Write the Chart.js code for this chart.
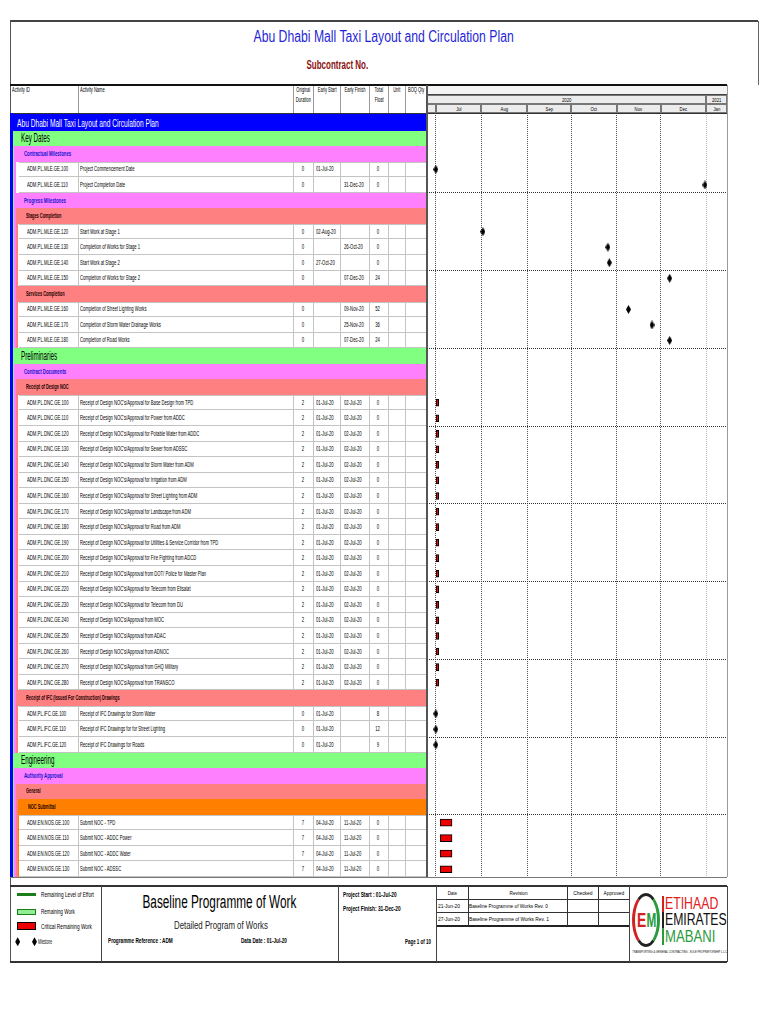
<!DOCTYPE html>
<html><head><meta charset="utf-8">
<script src="https://cdn.jsdelivr.net/npm/chart.js@4.4.0/dist/chart.umd.min.js"></script>
<style>
html,body{margin:0;padding:0;background:#fff;}
#page{position:relative;width:768px;height:1024px;overflow:hidden;background:#fff;font-family:"Liberation Sans",Arial,sans-serif;}
.t{position:absolute;white-space:nowrap;}
.b{position:absolute;box-sizing:border-box;}
#gantt{position:absolute;left:427px;top:115px;z-index:2;}
</style></head><body><div id="page"><canvas id="gantt" width="300" height="762"></canvas></div>
<script>
// ---------------- DATA ----------------
const rowKeys = [
 'Abu Dhabi Mall Taxi Layout and Circulation Plan',
 'Key Dates',
 'Contractual Milestones',
 'ADM.PL.MLE.GE.100',
 'ADM.PL.MLE.GE.110',
 'Progress Milestones',
 'Stages Completion',
 'ADM.PL.MLE.GE.120',
 'ADM.PL.MLE.GE.130',
 'ADM.PL.MLE.GE.140',
 'ADM.PL.MLE.GE.150',
 'Services Completion',
 'ADM.PL.MLE.GE.160',
 'ADM.PL.MLE.GE.170',
 'ADM.PL.MLE.GE.180',
 'Preliminaries',
 'Contract Documents',
 'Receipt of Design NOC',
 'ADM.PL.DNC.GE.100','ADM.PL.DNC.GE.110','ADM.PL.DNC.GE.120','ADM.PL.DNC.GE.130','ADM.PL.DNC.GE.140',
 'ADM.PL.DNC.GE.150','ADM.PL.DNC.GE.160','ADM.PL.DNC.GE.170','ADM.PL.DNC.GE.180','ADM.PL.DNC.GE.190',
 'ADM.PL.DNC.GE.200','ADM.PL.DNC.GE.210','ADM.PL.DNC.GE.220','ADM.PL.DNC.GE.230','ADM.PL.DNC.GE.240',
 'ADM.PL.DNC.GE.250','ADM.PL.DNC.GE.260','ADM.PL.DNC.GE.270','ADM.PL.DNC.GE.280',
 'Receipt of IFC (Issued For Construction) Drawings',
 'ADM.PL.IFC.GE.100','ADM.PL.IFC.GE.110','ADM.PL.IFC.GE.120',
 'Engineering',
 'Authority Approval',
 'General',
 'NOC Submittal',
 'ADM.EN.NOS.GE.100','ADM.EN.NOS.GE.110','ADM.EN.NOS.GE.120','ADM.EN.NOS.GE.130'
];
// 0 = activity, 1..5 = WBS band level
const rowLevels = [1,2,3,0,0,3,4,0,0,0,0,4,0,0,0,2,3,4,
 0,0,0,0,0,0,0,0,0,0,0,0,0,0,0,0,0,0,0,
 4,0,0,0,2,3,4,5,0,0,0,0];
const activityNames = ['','','',
 'Project Commencement Date','Project Completion Date','','',
 'Start Work at Stage 1','Completion of Works for Stage 1','Start Work at Stage 2','Completion of Works for Stage 2','',
 'Completion of Street Lighting Works','Completion of Storm Water Drainage Works','Completion of Road Works',
 '','','',
 "Receipt of Design NOC's/Approval for Base Design from TPD",
 "Receipt of Design NOC's/Approval for Power from ADDC",
 "Receipt of Design NOC's/Approval for Potable Water from ADDC",
 "Receipt of Design NOC's/Approval for Sewer from ADSSC",
 "Receipt of Design NOC's/Approval for Storm Water from ADM",
 "Receipt of Design NOC's/Approval for Irrigation from ADM",
 "Receipt of Design NOC's/Approval for Street Lighting from ADM",
 "Receipt of Design NOC's/Approval for Landscape from ADM",
 "Receipt of Design NOC's/Approval for Road from ADM",
 "Receipt of Design NOC's/Approval for Utilities & Service Corridor from TPD",
 "Receipt of Design NOC's/Approval for Fire Fighting from ADCD",
 "Receipt of Design NOC's/Approval from DOT/ Police for Master Plan",
 "Receipt of Design NOC's/Approval for Telecom from Etisalat",
 "Receipt of Design NOC's/Approval for Telecom from DU",
 "Receipt of Design NOC's/Approval from MOC",
 "Receipt of Design NOC's/Approval from ADAC",
 "Receipt of Design NOC's/Approval from ADNOC",
 "Receipt of Design NOC's/Approval from GHQ Military",
 "Receipt of Design NOC's/Approval from TRANSCO",
 '',
 'Receipt of IFC Drawings for Storm Water','Receipt of IFC Drawings for for Street Lighting','Receipt of IFC Drawings for Roads',
 '','','','',
 'Submit NOC - TPD','Submit NOC - ADDC Power','Submit NOC - ADDC Water','Submit NOC - ADSSC'];
const originalDuration = ['','','','0','0','','','0','0','0','0','','0','0','0','','','',
 '2','2','2','2','2','2','2','2','2','2','2','2','2','2','2','2','2','2','2',
 '','0','0','0','','','','','7','7','7','7'];
const earlyStart = ['','','','01-Jul-20','','','','02-Aug-20','','27-Oct-20','','','','','','','','',
 '01-Jul-20','01-Jul-20','01-Jul-20','01-Jul-20','01-Jul-20','01-Jul-20','01-Jul-20','01-Jul-20','01-Jul-20','01-Jul-20',
 '01-Jul-20','01-Jul-20','01-Jul-20','01-Jul-20','01-Jul-20','01-Jul-20','01-Jul-20','01-Jul-20','01-Jul-20',
 '','01-Jul-20','01-Jul-20','01-Jul-20','','','','','04-Jul-20','04-Jul-20','04-Jul-20','04-Jul-20'];
const earlyFinish = ['','','','','31-Dec-20','','','','26-Oct-20','','07-Dec-20','','09-Nov-20','25-Nov-20','07-Dec-20','','','',
 '02-Jul-20','02-Jul-20','02-Jul-20','02-Jul-20','02-Jul-20','02-Jul-20','02-Jul-20','02-Jul-20','02-Jul-20','02-Jul-20',
 '02-Jul-20','02-Jul-20','02-Jul-20','02-Jul-20','02-Jul-20','02-Jul-20','02-Jul-20','02-Jul-20','02-Jul-20',
 '','','','','','','','','11-Jul-20','11-Jul-20','11-Jul-20','11-Jul-20'];
const totalFloat = ['','','','0','0','','','0','0','0','24','','52','36','24','','','',
 '0','0','0','0','0','0','0','0','0','0','0','0','0','0','0','0','0','0','0',
 '','8','12','9','','','','','0','0','0','0'];
const monthLabels = ['Jul','Aug','Sep','Oct','Nov','Dec','Jan'];
const monthStarts = ['01-Jul-20','01-Aug-20','01-Sep-20','01-Oct-20','01-Nov-20','01-Dec-20','01-Jan-21'];
const yearLabels = ['2020','2021'];
const timelineStart = '25-Jun-20';
const timelineEnd = '15-Jan-21';
const headerColumns = ['Activity ID','Activity Name','Original Duration','Early Start','Early Finish','Total Float','Unit','BOQ Qty'];

// ---------------- HELPERS ----------------
const MON = {Jan:0,Feb:1,Mar:2,Apr:3,May:4,Jun:5,Jul:6,Aug:7,Sep:8,Oct:9,Nov:10,Dec:11};
const ORIGIN = Date.UTC(2020,6,1);
function dayNum(s){ const p = s.split('-'); return Math.round((Date.UTC(2000 + (+p[2]), MON[p[1]], +p[0]) - ORIGIN)/86400000); }

const page = document.getElementById('page');
const FONT = '"Liberation Sans", Arial, sans-serif';
function box(x,y,w,h,st){ const d=document.createElement('div'); d.className='b';
  d.style.left=x+'px'; d.style.top=y+'px'; d.style.width=w+'px'; d.style.height=h+'px';
  Object.assign(d.style, st||{}); page.appendChild(d); return d; }
function hline(x1,x2,y,c,t){ t=t||1; return box(Math.round(x1), Math.round(y - t/2), Math.round(x2)-Math.round(x1), t, {background:c}); }
function vline(x,y1,y2,c,t){ t=t||1; return box(Math.round(x - t/2), Math.round(y1), t, Math.round(y2)-Math.round(y1), {background:c}); }
function txt(str,x,y,o){
  o=o||{}; const size=o.size||6.5;
  const d=document.createElement('div'); d.className='t'; d.textContent=str;
  d.style.fontFamily=o.family||FONT; d.style.fontSize=size+'px'; d.style.fontWeight=o.weight||'normal';
  d.style.color=o.color||'#000'; d.style.lineHeight=Math.round(size*1.25)+'px'; d.style.zIndex=3;
  page.appendChild(d);
  const w=d.offsetWidth, h=d.offsetHeight;
  const sx = o.w ? o.w/w : (o.sx||1); const sy = o.sy||1;
  const a=o.align||'l';
  d.style.left=(a==='l'?x:a==='c'?x-w/2:x-w)+'px';
  d.style.top=(y-h/2)+'px';
  d.style.transformOrigin=(a==='l'?'left':a==='c'?'center':'right')+' center';
  d.style.transform='scale('+sx+','+sy+')';
  return d;
}
function diamondDiv(x,y){ return box(x-2.5,y-4.5,5,9,{background:'#000',clipPath:'polygon(50% 0,100% 50%,50% 100%,0 50%)'}); }

// ---------------- CHART ----------------
const diamond = document.createElement('canvas');
diamond.width = 5; diamond.height = 9;
(function(){ const c = diamond.getContext('2d'); c.fillStyle='#000'; c.beginPath();
  c.moveTo(2.5,0); c.lineTo(5,4.5); c.lineTo(2.5,9); c.lineTo(0,4.5); c.closePath(); c.fill(); })();

const barData = rowKeys.map((k,i)=> (+originalDuration[i] > 0) ? [dayNum(earlyStart[i]), dayNum(earlyFinish[i]) + 1] : null);
const milestoneData = [];
rowKeys.forEach((k,i)=>{
  if (rowLevels[i]===0 && originalDuration[i]==='0') {
    const d = earlyStart[i] || earlyFinish[i];
    milestoneData.push({x: dayNum(d), y: k});
  }
});
const monthDays = monthStarts.map(dayNum);

const chart = new Chart(document.getElementById('gantt'), {
  type: 'bar',
  data: {
    labels: rowKeys,
    datasets: [
      { type:'bar', data: barData, backgroundColor:'#ee0000', borderColor:'#000', borderWidth:1,
        borderSkipped:false, barThickness:7, grouped:false },
      { type:'scatter', data: milestoneData, pointStyle: diamond, pointRadius:4, pointHoverRadius:4, clip:false }
    ]
  },
  options: {
    indexAxis:'y', responsive:false, animation:false, maintainAspectRatio:false,
    layout:{padding:0, autoPadding:false},
    events: [],
    plugins:{legend:{display:false}, tooltip:{enabled:false}},
    scales:{
      x:{ type:'linear', position:'bottom', min: dayNum(timelineStart), max: dayNum(timelineEnd), offset:false,
          ticks:{display:false}, border:{display:false, dash:[1,1]},
          grid:{ offset:false, drawTicks:false, tickLength:0, lineWidth:1,
                 color: c => (c.tick && c.tick.value === monthDays[monthDays.length-1]) ? '#bdbdbd' : '#555' },
          afterFit: s => { s.height = 0; },
          afterBuildTicks: s => { s.ticks = monthDays.map(v => ({value:v})); } },
      y:{ type:'category', offset:true, ticks:{display:false, autoSkip:false}, border:{display:false, dash:[1,1]},
          afterFit: s => { s.width = 0; },
          grid:{ offset:true, drawTicks:false, tickLength:0, lineWidth:1,
                 color: c => (c.index > 0 && c.index < rowKeys.length && c.index % 5 === 0) ? '#333' : 'rgba(0,0,0,0)' } }
    }
  }
});

// ---------------- OVERLAY (table, headers, footer) ----------------
const CL = 427, CT = 115;
const xs = chart.scales.x, ys = chart.scales.y;
const px = v => CL + xs.getPixelForValue(v);
const rh = ys.getPixelForValue(1) - ys.getPixelForValue(0);

// Title area
hline(10,758,21,'#444',2);
vline(758,21,85,'#666',1);
vline(10.5,21,962,'#555',1);
txt('Abu Dhabi Mall Taxi Layout and Circulation Plan',383,37,{size:16,color:'#1f1fd6',align:'c',w:260});
txt('Subcontract No.',337.5,65.5,{size:12,color:'#8b1010',align:'c',w:62,weight:'bold'});

// Table header
const cols = [10,78.3,293.3,313.3,340,369,388.3,405.7,427];
hline(10,727,85,'#111',2);
cols.slice(1,8).forEach(c=>vline(c,86,113,'#9a9a9a',1));
txt(headerColumns[0],11.5,90,{size:6.5,sx:0.62});
txt(headerColumns[1],80,90,{size:6.5,sx:0.62});
txt('Original',303.3,90,{size:6.5,sx:0.62,align:'c'});
txt('Duration',303.3,99.5,{size:6.5,sx:0.62,align:'c'});
txt(headerColumns[3],326.7,90,{size:6.5,sx:0.62,align:'c'});
txt(headerColumns[4],354.5,90,{size:6.5,sx:0.62,align:'c'});
txt('Total',378.7,90,{size:6.5,sx:0.62,align:'c'});
txt('Float',378.7,99.5,{size:6.5,sx:0.62,align:'c'});
txt(headerColumns[6],397,90,{size:6.5,sx:0.62,align:'c'});
txt(headerColumns[7],416.3,90,{size:6.5,sx:0.62,align:'c'});

// Gantt header
const ganttR = CL + 300;
box(CL,86,300,9,{background:'#f3f3f3',borderBottom:'1px solid #444'});
const jan = px(monthDays[6]);
box(CL,95,jan-CL,9,{background:'#ececec',border:'1px solid #777'});
box(jan,95,ganttR-jan,9,{background:'#ececec',border:'1px solid #777'});
txt(yearLabels[0],(CL+jan)/2,99.5,{size:6,sx:0.7,align:'c'});
txt(yearLabels[1],(jan+ganttR)/2,99.5,{size:6,sx:0.7,align:'c'});
box(CL,104,px(monthDays[0])-CL,9,{background:'#ececec',border:'1px solid #777'});
monthLabels.forEach((m,i)=>{
  const a = px(monthDays[i]); const b = i<monthDays.length-1 ? px(monthDays[i+1]) : ganttR;
  box(a,104,b-a,9,{background:'#ececec',border:'1px solid #777'});
  txt(m,(a+b)/2,108.5,{size:6,sx:0.7,align:'c'});
});
hline(10,727,113.5,'#333',1);

// Table body
const bandColors = {1:'#0000ff',2:'#80ff80',3:'#ff80ff',4:'#ff8080',5:'#ff8000'};
const stripX = {2:13,3:14,4:16,5:18};
const stripW = {2:1,3:2,4:2,5:1};
const bandTextX = {1:17,2:21,3:24,4:26,5:28};
let parentLevel = 1;
box(10,113,3,877-113,{background:'#0000ff'});
rowKeys.forEach((k,i)=>{
  const cy = CT + ys.getPixelForValue(i);
  let t = Math.round(cy - rh/2), b = Math.round(cy + rh/2);
  if (i===0) t = 114;
  const L = rowLevels[i];
  if (L===1) {
    box(10,t,417,b-t,{background:bandColors[1]});
    txt(k,bandTextX[1],cy,{size:11,color:'#fff',w:142});
    parentLevel = 1;
  } else if (L>=2) {
    for (let p=2; p<L; p++) box(stripX[p],t,stripW[p],b-t,{background:bandColors[p]});
    box(stripX[L],t,427-stripX[L],b-t,{background:bandColors[L]});
    if (L===2) txt(k,bandTextX[2],cy,{size:12.5,sx:0.5});
    else if (L===3) txt(k,bandTextX[3],cy,{size:6.5,weight:'bold',color:'#1414d0',sx:0.66});
    else txt(k,bandTextX[L],cy,{size:6.5,weight:'bold',color:'#200000',sx:0.6});
    parentLevel = L;
  } else {
    for (let p=2; p<=parentLevel; p++) box(stripX[p],t,stripW[p],b-t,{background:bandColors[p]});
    box(19,t,427-19,b-t,{background:'#fff',borderBottom:'1px solid #c4c4c4',borderTop: (rowLevels[i-1]===0?'0':'1px solid #c4c4c4')});
    cols.slice(1,8).forEach(c=>vline(c,t,b,'#c4c4c4',1));
    txt(k,27,cy,{size:6.5,sx:0.65});
    txt(activityNames[i],80,cy,{size:6.5,sx:0.64});
    txt(originalDuration[i],303,cy,{size:6.5,sx:0.65,align:'c'});
    if (earlyStart[i]) txt(earlyStart[i],316,cy,{size:6.5,sx:0.65});
    if (earlyFinish[i]) txt(earlyFinish[i],344,cy,{size:6.5,sx:0.65});
    txt(totalFloat[i],377.5,cy,{size:6.5,sx:0.65,align:'c'});
  }
});
vline(427,85,877,'#555',2);
vline(727,85,877,'#9a9a9a',1);
hline(10,727,877.5,'#777',1);

// Footer
hline(10,727,886,'#333',2);
hline(10,727,962,'#333',2);
[101.7,338.3,436.7,629,727].forEach(x=>vline(x,886,962,'#444',1));
box(17,893,19,3,{background:'#1b7d1b'});
box(17,909,19,5.5,{background:'#90ee90',border:'1px solid #1b7d1b'});
box(17,922,19,8,{background:'#ee0000',border:'1px solid #000'});
diamondDiv(17.7,941.7); diamondDiv(34.5,941.7);
txt('Remaining Level of Effort',40.7,894.5,{size:7,w:52.6});
txt('Remaining Work',40.7,911,{size:7,w:34});
txt('Critical Remaining Work',40.7,926,{size:7,w:51});
txt('Milestone',37.7,941.7,{size:7,w:14});
txt('Baseline Programme of Work',219.2,902,{size:18,w:154,align:'c'});
txt('Detailed Program of Works',220.5,925,{size:11,w:94,align:'c',color:'#222'});
txt('Programme Reference : ADM',107.7,941,{size:6.5,weight:'bold',w:65});
txt('Data Date : 01-Jul-20',241,941,{size:6.5,weight:'bold',w:46});
txt('Project Start : 01-Jul-20',342.7,895,{size:6.5,weight:'bold',w:54});
txt('Project Finish: 31-Dec-20',342.7,909.3,{size:6.5,weight:'bold',w:58});
txt('Page 1 of 10',405,942,{size:6.5,weight:'bold',w:26});
// revision table
hline(437,629,899,'#333',1); hline(437,629,912,'#333',1); hline(437,629,925.7,'#222',2);
[468,567.7,598].forEach(x=>vline(x,886,926,'#333',1));
txt('Date',452.5,892.5,{size:6,w:9.5,align:'c'});
txt('Revision',518,892.5,{size:6,w:18,align:'c'});
txt('Checked',583,892.5,{size:6,w:19.6,align:'c'});
txt('Approved',613.5,892.5,{size:6,w:21,align:'c'});
txt('21-Jun-20',437.8,905.5,{size:6,w:22});
txt('Baseline Programme of Works Rev. 0',469.3,905.5,{size:6,w:79});
txt('27-Jun-20',437.8,918.8,{size:6,w:22});
txt('Baseline Programme of Works Rev. 1',469.3,918.8,{size:6,w:80});
// logo
box(632,893,28,54,{borderRadius:'50%',border:'3px solid #222',borderLeftColor:'#d42020',borderRightColor:'#2a9a3a'});
txt('E',641.5,920,{size:20,weight:'bold',color:'#d42020',align:'c',w:9});
txt('M',651,920,{size:20,weight:'bold',color:'#2a9a3a',align:'c',w:10});
box(662,896,2,16,{background:'#d42020'});
box(662,912,2,16,{background:'#222'});
box(662,928,2,17,{background:'#2a9a3a'});
txt('ETIHAAD',665,904,{size:16,color:'#e0201a',w:53});
txt('EMIRATES',665,919.5,{size:16,color:'#111',w:62});
txt('MABANI',665,937,{size:16,color:'#2a9a3a',w:50});
txt('TRANSPORTING & GENERAL CONTRACTING - SOLE PROPRIETORSHIP L.L.C',679.5,951.5,{size:6,sy:0.6,w:95,align:'c'});
</script></body></html>
